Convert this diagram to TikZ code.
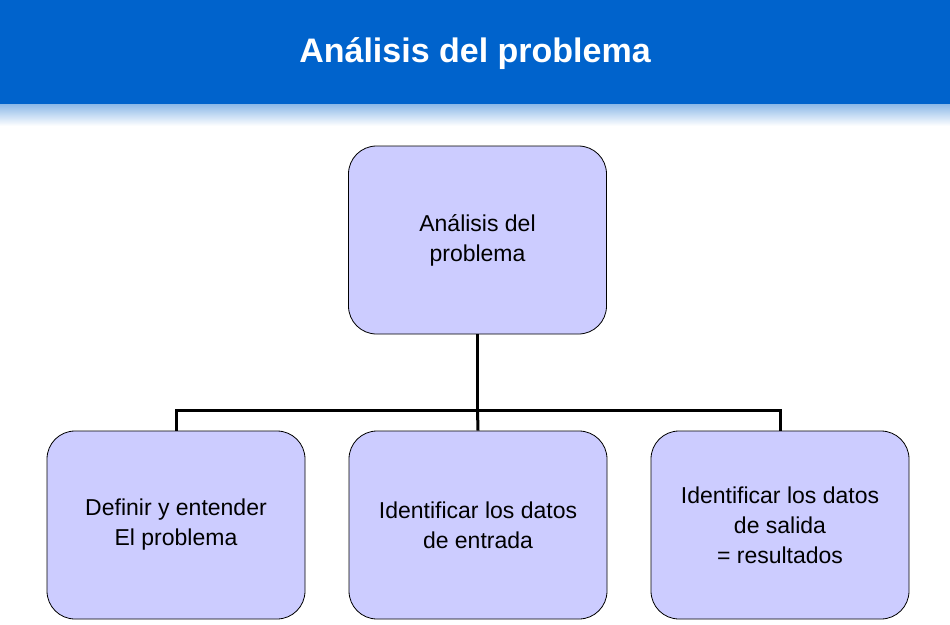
\documentclass[tikz,border=0pt]{standalone}
\usepackage{fontspec}
\setmainfont{Liberation Sans}
\begin{document}
\begin{tikzpicture}[x=1pt,y=-1pt,
  box/.style={draw=black,line width=0.8pt,fill=boxfill,rounded corners=28pt,minimum width=258pt,minimum height=188pt,align=center,font=\fontsize{23}{30}\selectfont},
  conn/.style={line width=3pt}]
\definecolor{hdr}{HTML}{0063CC}
\definecolor{boxfill}{HTML}{CCCCFF}
\useasboundingbox (0,0) rectangle (950,624);
\fill[white] (0,0) rectangle (950,624);
\fill[hdr] (0,0) rectangle (950,104);
\shade[top color=hdr!45,bottom color=white] (0,104) rectangle (950,126);
\node[text=white,font=\bfseries\fontsize{34}{40}\selectfont] (title) at (475,54) {Análisis del problema};
\node[box] (top) at (477.5,240) {Análisis del\\ problema};
\node[box] (b1) at (176,525) {Definir y entender\\El problema};
\node[box] (b2) at (478,525) {Identificar los datos\\de entrada};
\node[box] (b3) at (780,525) {Identificar los datos\\de salida\\= resultados};
\coordinate (j) at (477.5,410);
\draw[conn] (top.south) -- (j);
\draw[conn] (b1.north) |- (j) -| (b3.north);
\draw[conn] (j) -- (b2.north);
\end{tikzpicture}
\end{document}
